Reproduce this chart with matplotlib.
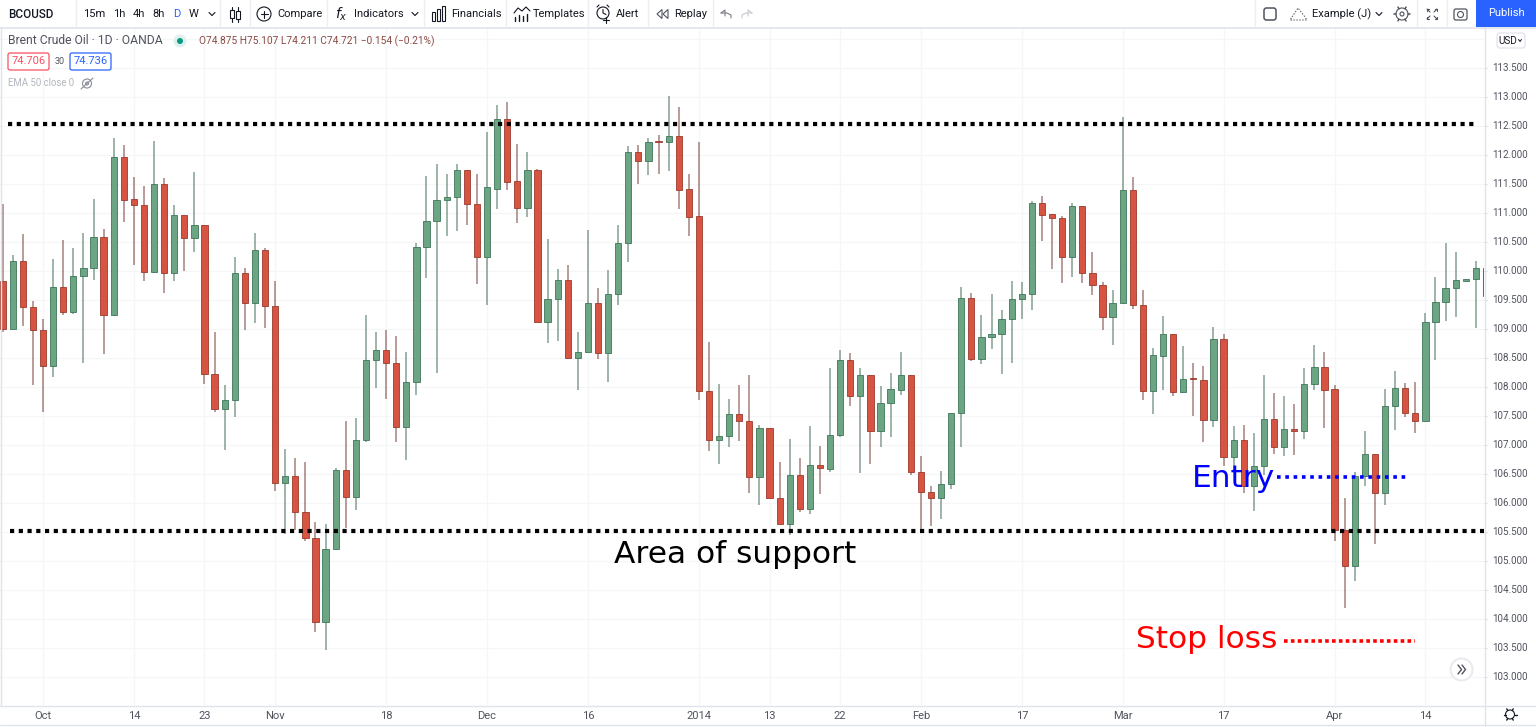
import numpy as np
import matplotlib
matplotlib.use("Agg")
import matplotlib.pyplot as plt
from matplotlib.patches import Rectangle, Circle, FancyBboxPatch, Polygon

# ------------------------------------------------------------
# Daily candles
# ------------------------------------------------------------
opens = [
    109.83, 109.00, 110.17, 109.38, 108.98, 108.37, 109.72, 109.30, 109.92, 110.05,
    110.58, 109.25, 111.97, 111.24, 111.14, 109.99, 111.50, 109.97, 110.96, 110.57,
    110.79, 108.23, 107.62, 107.77, 109.97, 109.44, 110.36, 109.40, 106.35, 106.47,
    105.85, 105.39, 103.95, 105.21, 106.57, 106.10, 107.09, 108.47, 108.63, 108.41,
    107.31, 108.08, 110.41, 110.87, 111.22, 111.27, 111.75, 111.15, 110.25, 111.42,
    112.62, 111.55, 111.09, 111.75, 109.12, 109.51, 109.85, 108.50, 108.61, 109.44,
    108.58, 109.60, 110.48, 112.06, 111.90, 112.23, 112.22, 112.32, 111.41, 110.94,
    107.93, 107.09, 107.16, 107.54, 107.41, 106.44, 107.30, 106.08, 105.64, 106.48,
    105.90, 106.65, 106.59, 107.17, 108.47, 107.84, 108.21, 107.24, 107.72, 107.95,
    108.20, 106.53, 106.19, 106.08, 106.32, 107.55, 109.53, 108.49, 108.86, 108.91,
    109.17, 109.52, 109.60, 111.18, 110.98, 110.91, 110.25, 111.12, 109.97, 109.76,
    109.20, 109.44, 111.40, 109.41, 107.93, 108.54, 108.92, 107.91, 108.14, 108.12,
    107.43, 108.82, 106.80, 107.08, 106.30, 106.63, 107.45, 106.97, 107.26, 107.25,
    108.05, 108.34, 107.96, 105.54, 104.92, 106.47, 106.84, 106.18, 107.67, 107.98,
    107.56, 107.41, 109.12, 109.46, 109.70, 109.83, 109.86, 110.05,
]
highs = [
    111.16, 110.27, 110.63, 109.48, 109.18, 110.20, 110.53, 110.40, 110.66, 111.25,
    110.72, 112.30, 112.17, 111.62, 111.47, 112.25, 111.61, 111.13, 110.97, 111.70,
    110.79, 108.95, 108.04, 110.24, 110.06, 110.66, 110.39, 109.83, 106.93, 106.77,
    106.71, 105.68, 105.63, 106.60, 107.41, 107.47, 109.25, 108.95, 108.99, 108.88,
    108.61, 110.49, 111.63, 111.84, 111.68, 111.85, 111.75, 111.67, 112.39, 112.86,
    112.92, 112.19, 112.05, 111.76, 110.55, 110.03, 110.11, 108.95, 110.70, 109.71,
    110.01, 110.80, 112.16, 112.17, 112.29, 112.34, 113.02, 112.82, 111.68, 112.23,
    108.77, 108.05, 107.80, 108.03, 108.21, 107.35, 107.30, 106.70, 107.11, 106.78,
    107.32, 106.98, 108.32, 108.64, 108.58, 108.32, 108.21, 108.01, 108.25, 108.60,
    108.20, 106.81, 106.30, 106.55, 107.56, 109.72, 109.62, 109.25, 109.61, 109.33,
    109.82, 109.81, 111.20, 111.30, 110.98, 110.95, 111.17, 111.12, 110.32, 109.81,
    109.67, 112.66, 111.62, 109.67, 108.68, 109.22, 108.92, 108.70, 108.42, 108.37,
    109.03, 108.91, 107.33, 107.34, 107.20, 108.21, 107.89, 107.84, 107.70, 108.32,
    108.72, 108.60, 108.04, 106.08, 106.53, 107.24, 106.85, 107.97, 108.27, 108.07,
    108.08, 109.27, 109.89, 110.49, 110.32, 109.87, 110.17, 110.05,
]
lows = [
    108.94, 109.00, 109.06, 108.04, 107.57, 108.17, 109.25, 109.26, 108.41, 109.85,
    108.57, 109.25, 110.84, 110.11, 109.82, 109.97, 109.62, 109.83, 110.00, 110.33,
    108.05, 107.57, 106.91, 107.48, 108.98, 109.10, 109.01, 106.21, 105.46, 105.53,
    105.35, 103.78, 103.47, 105.21, 105.57, 105.88, 107.06, 107.98, 107.80, 107.05,
    106.75, 107.86, 109.88, 108.25, 110.60, 110.69, 110.79, 109.77, 109.41, 111.07,
    111.40, 110.82, 110.93, 109.12, 108.76, 108.80, 108.48, 107.94, 108.61, 108.49,
    108.08, 109.41, 110.15, 111.50, 111.66, 111.67, 111.72, 111.07, 110.61, 107.78,
    106.90, 106.68, 106.97, 107.07, 106.17, 105.96, 106.08, 105.64, 105.45, 105.85,
    105.81, 106.15, 106.54, 107.13, 107.67, 106.51, 106.67, 106.97, 107.14, 107.86,
    106.48, 105.50, 105.60, 105.72, 106.25, 106.97, 108.44, 108.39, 108.66, 108.22,
    108.42, 109.17, 109.33, 110.51, 110.04, 109.80, 109.90, 109.80, 109.58, 108.99,
    108.72, 109.44, 109.34, 107.78, 107.54, 107.95, 107.85, 107.90, 107.50, 107.06,
    107.31, 106.64, 106.55, 106.18, 105.87, 106.48, 106.84, 106.81, 106.83, 107.10,
    107.95, 107.30, 105.35, 104.19, 104.66, 106.30, 105.29, 105.97, 107.26, 107.49,
    107.20, 107.41, 108.46, 109.14, 109.21, 109.83, 109.01, 109.57,
]
closes = [
    109.00, 110.17, 109.38, 108.98, 108.37, 109.72, 109.30, 109.92, 110.06, 110.58,
    109.25, 111.97, 111.23, 111.14, 109.99, 111.50, 109.97, 110.96, 110.57, 110.79,
    108.23, 107.62, 107.77, 109.97, 109.44, 110.36, 109.39, 106.35, 106.47, 105.85,
    105.39, 103.95, 105.21, 106.57, 106.10, 107.09, 108.47, 108.63, 108.41, 107.31,
    108.09, 110.41, 110.87, 111.22, 111.28, 111.75, 111.15, 110.25, 111.44, 112.62,
    111.54, 111.09, 111.75, 109.12, 109.51, 109.85, 108.50, 108.61, 109.44, 108.58,
    109.60, 110.48, 112.06, 111.90, 112.22, 112.22, 112.32, 111.40, 110.93, 107.93,
    107.09, 107.16, 107.54, 107.41, 106.44, 107.30, 106.08, 105.64, 106.48, 105.90,
    106.65, 106.60, 107.17, 108.47, 107.84, 108.21, 107.24, 107.72, 107.96, 108.20,
    106.53, 106.19, 106.08, 106.33, 107.56, 109.53, 108.49, 108.86, 108.91, 109.17,
    109.52, 109.60, 111.18, 110.97, 110.91, 110.25, 111.12, 109.97, 109.76, 109.20,
    109.44, 111.40, 109.41, 107.93, 108.55, 108.92, 107.91, 108.14, 108.13, 107.43,
    108.82, 106.80, 107.08, 106.30, 106.63, 107.45, 106.97, 107.27, 107.25, 108.05,
    108.34, 107.95, 105.54, 104.92, 106.47, 106.84, 106.18, 107.67, 107.99, 107.55,
    107.41, 109.12, 109.46, 109.71, 109.84, 109.87, 110.05, 109.57,
]

# date labels and the candle each one sits on
date_ticks = [4, 13, 20, 27, 38, 48, 58, 69, 76, 83, 91, 101, 111, 121, 132, 141]
date_labels = ["Oct", "14", "23", "Nov", "18", "Dec", "16", "2014", "13", "22",
               "Feb", "17", "Mar", "17", "Apr", "14"]
price_ticks = np.arange(103.0, 114.0, 0.5)

# drawn levels
resistance_level = 112.53
support_level = 105.52
entry_level = 106.44
stop_level = 103.62

W, H = 1536, 727
AXIS_X = 1484
TOP_Y = 28
BOTTOM_Y = 705

GREEN = "#6ba583"
GREEN_EDGE = "#3f7558"
GREEN_WICK = "#225437"
RED = "#d75442"
RED_EDGE = "#9a3a2c"
RED_WICK = "#5b1a13"
TEXT = "#131722"
GREY_TEXT = "#50535e"
GRID = "#f5f6f8"
LINE = "#e0e3eb"
BLUE = "#2962ff"

plt.rcParams["font.family"] = ["Roboto", "DejaVu Sans"]

fig = plt.figure(figsize=(W / 100, H / 100), dpi=100, facecolor="white")

# ------------------------------------------------------------
# Chart pane
# ------------------------------------------------------------
ax = fig.add_axes([0, 1 - BOTTOM_Y / H, AXIS_X / W, (BOTTOM_Y - TOP_Y) / H])
ax.set_xlim(-2.7 / 10.09, (AXIS_X - 2.7) / 10.09)
ax.set_ylim(113 - (BOTTOM_Y - 97) / 58, 113 + (97 - TOP_Y) / 58)
for spine in ax.spines.values():
    spine.set_visible(False)
ax.set_xticks(date_ticks)
ax.set_xticklabels(date_labels, fontsize=8, color=GREY_TEXT)
ax.set_yticks(np.append(price_ticks, 114.0))
ax.yaxis.tick_right()
ax.set_yticklabels([])
ax.tick_params(length=0, pad=4)
ax.grid(True, color=GRID, linewidth=1.0)
ax.set_axisbelow(True)

x = np.arange(len(opens))
o = np.array(opens)
c = np.array(closes)
up = c >= o
for mask, fill, edge, wick in [(up, GREEN, GREEN_EDGE, GREEN_WICK), (~up, RED, RED_EDGE, RED_WICK)]:
    ax.vlines(x[mask], np.array(lows)[mask], np.array(highs)[mask],
              color=wick, alpha=0.55, linewidth=1.1, zorder=2)
    ax.bar(x[mask], np.maximum(np.abs(c - o)[mask], 0.02), bottom=np.minimum(o, c)[mask],
           width=0.62, color=fill, edgecolor=edge, linewidth=0.6, zorder=3)

# hand drawn levels
ax.plot([0.52, 146.0], [resistance_level] * 2, color="black", linewidth=3.0,
        linestyle=(0, (1, 1.1)), dash_capstyle="butt", zorder=5)
ax.plot([0.72, 146.8], [support_level] * 2, color="black", linewidth=3.0,
        linestyle=(0, (1, 1.1)), dash_capstyle="butt", zorder=5)
ax.plot([126.3, 139.3], [entry_level] * 2, color="#0000ff", linewidth=2.6,
        linestyle=(0, (1, 1.3)), dash_capstyle="butt", zorder=5)
ax.plot([127.0, 140.0], [stop_level] * 2, color="#ff0000", linewidth=2.6,
        linestyle=(0, (1, 0.9)), dash_capstyle="butt", zorder=5)

ax.text(72.6, 105.11, "Area of support", fontsize=22.5, family="DejaVu Sans",
        color="black", ha="center", va="center", zorder=6)
ax.text(122.0, 106.42, "Entry", fontsize=22.5, family="DejaVu Sans",
        color="#0000ff", ha="center", va="center", zorder=6)
ax.text(119.3, 103.64, "Stop loss", fontsize=22.5, family="DejaVu Sans",
        color="#ff0000", ha="center", va="center", zorder=6)

# ------------------------------------------------------------
# Toolbar, legend and axis chrome, in pixels
# ------------------------------------------------------------
ui = fig.add_axes([0, 0, 1, 1], facecolor="none")
ui.set_xlim(0, W)
ui.set_ylim(H, 0)
ui.axis("off")


def label(px, py, s, size=8.0, color=TEXT, ha="left", **kw):
    ui.text(px, py, s, fontsize=size, color=color, ha=ha, va="center", **kw)


def stroke(xs, ys, color=TEXT, lw=0.8):
    ui.plot(xs, ys, color=color, linewidth=lw, solid_capstyle="round")


def ring(px, py, r, color=TEXT, lw=0.8, fill="none"):
    ui.add_patch(Circle((px, py), r, facecolor=fill, edgecolor=color, linewidth=lw))


def chevron(px, py, color=TEXT):
    stroke([px - 3, px, px + 3], [py - 1.5, py + 1.5, py - 1.5], color=color)


# frame lines
stroke([0, W], [27.5, 27.5], color=LINE, lw=1.2)
stroke([0.5, 0.5], [28, BOTTOM_Y], color=LINE, lw=1.0)
stroke([0, W], [BOTTOM_Y + 0.5, BOTTOM_Y + 0.5], color=LINE, lw=1.0)
stroke([AXIS_X + 0.5, AXIS_X + 0.5], [28, H], color=LINE, lw=1.0)
stroke([0, W], [H - 2, H - 2], color=LINE, lw=1.0)
for sep in [76, 220, 250, 327, 424, 506, 588, 648, 713, 1255, 1417, 1447]:
    stroke([sep, sep], [0, 27], color="#eceef2", lw=1.0)

# left toolbar
label(8, 14, "BCOUSD", size=8.4, fontweight="medium")
for px, s in [(94, "15m"), (119, "1h"), (139, "4h"), (159, "8h"), (194, "W")]:
    label(px, 14, s, ha="center")
label(177, 14, "D", color=BLUE, ha="center")
chevron(212, 14)

# candle icon
stroke([232, 232], [7, 22]); stroke([238, 238], [7, 22])
ui.add_patch(Rectangle((230, 10), 4, 8, facecolor="white", edgecolor=TEXT, linewidth=0.8, zorder=3))
ui.add_patch(Rectangle((236, 11), 4, 8, facecolor="white", edgecolor=TEXT, linewidth=0.8, zorder=3))

ring(264, 14, 7)
stroke([264, 264], [10.5, 17.5]); stroke([260.5, 267.5], [14, 14])
label(277, 14, "Compare")

label(341, 14.5, r"$f_{x}$", size=10, ha="center")
label(354, 14, "Indicators")
chevron(415, 14)

# financials bars
ui.add_patch(Rectangle((432, 12), 3, 9, facecolor="white", edgecolor=TEXT, linewidth=0.8))
ui.add_patch(Rectangle((437, 9), 3, 12, facecolor="white", edgecolor=TEXT, linewidth=0.8))
ui.add_patch(Rectangle((442, 6), 3, 15, facecolor="white", edgecolor=TEXT, linewidth=0.8))
label(451, 14, "Financials")

# templates
stroke([514, 518, 522, 526, 530], [13, 8, 11, 7, 11])
for px, top in [(515, 17), (519, 15), (523, 16), (527, 14)]:
    stroke([px, px], [top, 21], lw=1.0)
label(533, 14, "Templates")

# alert clock
ring(603, 13, 6)
stroke([603, 603, 606], [9.5, 13, 14.5])
stroke([597, 599], [7, 5]); stroke([607, 609], [5, 7])
stroke([606, 606], [17, 23]); stroke([603, 609], [20, 20])
label(616, 14, "Alert")

# replay
ui.add_patch(Polygon([[662, 9.5], [657, 14], [662, 18.5]], closed=True, fill=False, edgecolor=GREY_TEXT, linewidth=0.8))
ui.add_patch(Polygon([[668, 9.5], [663, 14], [668, 18.5]], closed=True, fill=False, edgecolor=GREY_TEXT, linewidth=0.8))
label(674, 14, "Replay")

# undo, redo
stroke([721, 725, 725], [13, 10, 16], color="#787b86")
stroke([721, 727, 731, 731], [13, 13, 15, 18], color="#787b86")
stroke([752, 748, 748], [13, 10, 16], color="#c8cad0")
stroke([752, 746, 742, 742], [13, 13, 15, 18], color="#c8cad0")

# right toolbar
ui.add_patch(FancyBboxPatch((1264, 8), 12, 12, boxstyle="round,pad=0,rounding_size=2.5",
                            facecolor="white", edgecolor="#50535e", linewidth=1.1))
ui.plot([1292, 1298, 1305, 1307, 1290, 1292], [17, 8, 17, 20, 20, 17], color=GREY_TEXT,
        linewidth=0.7, linestyle=(0, (1.5, 1.5)))
label(1312, 14, "Example (J)")
chevron(1379, 14)
ring(1402, 14, 6, color=GREY_TEXT)
ring(1402, 14, 2, color=GREY_TEXT)
for a in np.arange(0, 2 * np.pi, np.pi / 3):
    stroke([1402 + 6 * np.cos(a), 1402 + 8 * np.cos(a)], [14 + 6 * np.sin(a), 14 + 8 * np.sin(a)],
           color=GREY_TEXT, lw=1.1)
for dx, dy in [(-1, -1), (1, -1), (-1, 1), (1, 1)]:
    stroke([1432 + dx * 2, 1432 + dx * 5], [14 + dy * 2, 14 + dy * 5], color=GREY_TEXT)
    stroke([1432 + dx * 5, 1432 + dx * 5], [14 + dy * 3, 14 + dy * 5], color=GREY_TEXT)
    stroke([1432 + dx * 3, 1432 + dx * 5], [14 + dy * 5, 14 + dy * 5], color=GREY_TEXT)
ui.add_patch(FancyBboxPatch((1454, 9), 13, 11, boxstyle="round,pad=0,rounding_size=2",
                            facecolor="white", edgecolor=GREY_TEXT, linewidth=0.9))
ring(1460.5, 14.5, 3, color=GREY_TEXT)
ui.add_patch(Rectangle((1476, 0), 60, 27, facecolor=BLUE, edgecolor="none"))
label(1506, 13.5, "Publish", color="white", ha="center")

# legend block
label(8, 41, "Brent Crude Oil · 1D · OANDA", size=8.7, color=GREY_TEXT)
ring(180, 41, 6.5, color="#dff1ee", fill="#dff1ee", lw=0)
ring(180, 41, 3, color="#089981", fill="#089981", lw=0)
label(199, 41, "O74.875 H75.107 L74.211 C74.721 −0.154 (−0.21%)", size=7.3, color="#8b4a42")

ui.add_patch(FancyBboxPatch((8, 53), 41, 17, boxstyle="round,pad=0,rounding_size=2",
                            facecolor="white", edgecolor="#f7525f", linewidth=0.9))
label(28.5, 61.5, "74.706", color="#f7525f", ha="center")
label(60, 61.5, "30", size=6.5, color=GREY_TEXT, ha="center")
ui.add_patch(FancyBboxPatch((70, 53), 41, 17, boxstyle="round,pad=0,rounding_size=2",
                            facecolor="white", edgecolor=BLUE, linewidth=0.9))
label(90.5, 61.5, "74.736", color=BLUE, ha="center")

label(8, 83.5, "EMA 50 close 0", size=6.9, color="#b2b5be")
ring(87, 83.5, 4.5, color="#8a8d96")
ring(87, 83.5, 1.5, color="#8a8d96")
stroke([81, 93], [89, 78], color="#8a8d96")

# price scale
for p in price_ticks:
    py = 97 + (113 - p) * 58
    label(1492, py, "%.3f" % p, size=7.1, color=GREY_TEXT)
    stroke([AXIS_X, AXIS_X + 3], [py, py], color=LINE, lw=0.8)
ui.add_patch(FancyBboxPatch((1497, 33), 28, 15, boxstyle="round,pad=0,rounding_size=3",
                            facecolor="white", edgecolor="#e0e3eb", linewidth=0.9))
label(1508, 40.5, "USD", size=7.2, color=TEXT, ha="center")
stroke([1518.5, 1520, 1521.5], [39.5, 41.5, 39.5], lw=0.7)

# scroll button and settings gear
ring(1461.5, 669.5, 11, color="#e8eaee", fill="white", lw=1.4)
stroke([1458, 1461.5, 1458], [665, 669.5, 674], color=GREY_TEXT, lw=1.0)
stroke([1462, 1465.5, 1462], [665, 669.5, 674], color=GREY_TEXT, lw=1.0)
ring(1510, 714.5, 4.5, color=TEXT)
for a in np.arange(0, 2 * np.pi, np.pi / 3):
    stroke([1510 + 4.5 * np.cos(a), 1510 + 6.5 * np.cos(a)], [714.5 + 4.5 * np.sin(a), 714.5 + 6.5 * np.sin(a)], lw=1.0)

fig.savefig("out.png", dpi=100)
